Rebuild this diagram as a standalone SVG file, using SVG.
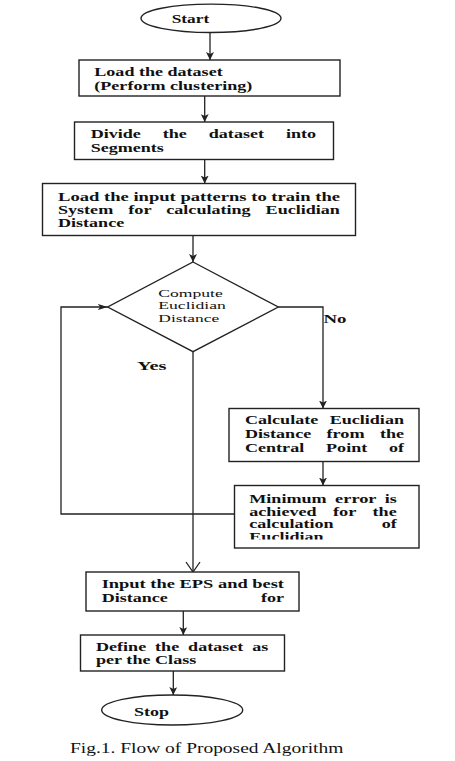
<svg xmlns="http://www.w3.org/2000/svg" width="455" height="761" viewBox="0 0 455 761">
<style>
.bg{fill:#ffffff}
.box{fill:#ffffff;stroke:#222;stroke-width:1.4}
.ln{fill:none;stroke:#222;stroke-width:1.3}
.t{font-family:"Liberation Serif","Times New Roman",serif;font-size:12.5px;font-weight:bold;fill:#111}
.r{font-weight:normal;font-size:11px}
.cap{font-family:"Liberation Serif","Times New Roman",serif;font-size:14px;font-weight:normal;fill:#111}
</style>
<defs>
<marker id="ah" markerUnits="userSpaceOnUse" markerWidth="8" markerHeight="8" viewBox="0 0 8 8" refX="8" refY="4" orient="auto">
<path d="M0,0 L8,4 L0,8 L2,4 z" fill="#222"/>
</marker>
<marker id="ahl" markerUnits="userSpaceOnUse" markerWidth="10" markerHeight="7" viewBox="0 0 10 7" refX="10" refY="3.5" orient="auto">
<path d="M0,0.5 L10,3.5 L0,6.5 L2.5,3.5 z" fill="#222"/>
</marker>
<marker id="aho" markerUnits="userSpaceOnUse" markerWidth="12" markerHeight="16" viewBox="0 0 12 16" refX="11" refY="8" orient="auto">
<path d="M1,1 L11,8 L1,15" fill="none" stroke="#222" stroke-width="1.3"/>
</marker>
<clipPath id="c5"><rect x="234" y="485" width="186" height="54.5"/></clipPath>
</defs>
<rect class="bg" x="0" y="0" width="455" height="761"/>

<g id="connectors">
<line class="ln" x1="210" y1="32.5" x2="210" y2="60" marker-end="url(#ah)"/>
<line class="ln" x1="204.7" y1="96" x2="204.7" y2="122" marker-end="url(#ah)"/>
<line class="ln" x1="204.7" y1="159.5" x2="204.7" y2="183.5" marker-end="url(#ah)"/>
<line class="ln" x1="193" y1="235.5" x2="193" y2="262" marker-end="url(#ah)"/>
<polyline class="ln" points="278.3,307 323,307 323,408.5" marker-end="url(#ah)"/>
<line class="ln" x1="323" y1="461.5" x2="323" y2="485.5" marker-end="url(#ah)"/>
<polyline class="ln" points="234.5,514 61,514 61,307 107.7,307" marker-end="url(#ahl)"/>
<line class="ln" x1="193" y1="351.7" x2="193" y2="572" marker-end="url(#aho)"/>
<line class="ln" x1="183.3" y1="611" x2="183.3" y2="635" marker-end="url(#ah)"/>
<line class="ln" x1="173.3" y1="671" x2="173.3" y2="695" marker-end="url(#ah)"/>
<text class="t" x="323.5" y="322.7" textLength="23" lengthAdjust="spacingAndGlyphs">No</text>
<text class="t" x="137" y="370" textLength="29.5" lengthAdjust="spacingAndGlyphs">Yes</text>
</g>

<g id="start">
<ellipse class="box" cx="211" cy="18.3" rx="70" ry="14.2"/>
<text class="t" x="171.7" y="22.7" textLength="37.5" lengthAdjust="spacingAndGlyphs">Start</text>
</g>

<g id="load-dataset">
<rect class="box" x="79" y="60" width="261" height="36"/>
<text class="t" x="94.3" y="76" textLength="128.4" lengthAdjust="spacingAndGlyphs">Load the dataset</text>
<text class="t" x="94.3" y="89.5" textLength="158" lengthAdjust="spacingAndGlyphs">(Perform clustering)</text>
</g>

<g id="divide">
<rect class="box" x="74.5" y="122" width="259" height="37.5"/>
<text class="t" y="137.7"><tspan x="90.7" textLength="50.2" lengthAdjust="spacingAndGlyphs">Divide</tspan> <tspan x="162.8" textLength="24.1" lengthAdjust="spacingAndGlyphs">the</tspan> <tspan x="208.8" textLength="55.2" lengthAdjust="spacingAndGlyphs">dataset</tspan> <tspan x="285.9" textLength="30.1" lengthAdjust="spacingAndGlyphs">into</tspan></text>
<text class="t" x="90.7" y="151.5" textLength="73.2" lengthAdjust="spacingAndGlyphs">Segments</text>
</g>

<g id="load-patterns">
<rect class="box" x="42.5" y="183.5" width="313" height="52"/>
<text class="t" x="58" y="200.5" textLength="282" lengthAdjust="spacingAndGlyphs">Load the input patterns to train the</text>
<text class="t" y="213.8"><tspan x="58" textLength="55.2" lengthAdjust="spacingAndGlyphs">System</tspan> <tspan x="128.2" textLength="23.1" lengthAdjust="spacingAndGlyphs">for</tspan> <tspan x="166.3" textLength="84.3" lengthAdjust="spacingAndGlyphs">calculating</tspan> <tspan x="265.6" textLength="74.3" lengthAdjust="spacingAndGlyphs">Euclidian</tspan></text>
<text class="t" x="58" y="227" textLength="66.2" lengthAdjust="spacingAndGlyphs">Distance</text>
</g>

<g id="decision">
<polygon class="box" points="193,262 278.3,307 193,351.7 107.7,307"/>
<text class="t r" x="158.3" y="296.5" textLength="64.4" lengthAdjust="spacingAndGlyphs">Compute</text>
<text class="t r" x="158.3" y="309" textLength="67.5" lengthAdjust="spacingAndGlyphs">Euclidian</text>
<text class="t r" x="158.3" y="321.5" textLength="61" lengthAdjust="spacingAndGlyphs">Distance</text>
</g>

<g id="calculate">
<rect class="box" x="229" y="408.5" width="190" height="53"/>
<text class="t" y="424.3"><tspan x="245" textLength="73.2" lengthAdjust="spacingAndGlyphs">Calculate</tspan> <tspan x="329.7" textLength="74.3" lengthAdjust="spacingAndGlyphs">Euclidian</tspan></text>
<text class="t" y="438"><tspan x="245" textLength="66.2" lengthAdjust="spacingAndGlyphs">Distance</tspan> <tspan x="326.5" textLength="38.1" lengthAdjust="spacingAndGlyphs">from</tspan> <tspan x="379.9" textLength="24.1" lengthAdjust="spacingAndGlyphs">the</tspan></text>
<text class="t" y="451.7"><tspan x="245" textLength="59.2" lengthAdjust="spacingAndGlyphs">Central</tspan> <tspan x="326.1" textLength="41.1" lengthAdjust="spacingAndGlyphs">Point</tspan> <tspan x="389" textLength="15" lengthAdjust="spacingAndGlyphs">of</tspan></text>
</g>

<g id="minimum-error">
<rect class="box" x="234.5" y="485.5" width="184.5" height="62.5"/>
<text class="t" y="503"><tspan x="249.3" textLength="77.3" lengthAdjust="spacingAndGlyphs">Minimum</tspan> <tspan x="335.1" textLength="41.1" lengthAdjust="spacingAndGlyphs">error</tspan> <tspan x="384.7" textLength="12" lengthAdjust="spacingAndGlyphs">is</tspan></text>
<text class="t" y="515.7"><tspan x="249.3" textLength="67.2" lengthAdjust="spacingAndGlyphs">achieved</tspan> <tspan x="333" textLength="23.1" lengthAdjust="spacingAndGlyphs">for</tspan> <tspan x="372.6" textLength="24.1" lengthAdjust="spacingAndGlyphs">the</tspan></text>
<text class="t" y="528.3"><tspan x="249.3" textLength="84.3" lengthAdjust="spacingAndGlyphs">calculation</tspan> <tspan x="381.7" textLength="15" lengthAdjust="spacingAndGlyphs">of</tspan></text>
<text class="t" x="249.3" y="541" textLength="74.3" lengthAdjust="spacingAndGlyphs" clip-path="url(#c5)">Euclidian</text>
</g>

<g id="input-eps">
<rect class="box" x="86" y="572" width="213" height="39"/>
<text class="t" x="101.7" y="587.5" textLength="182.3" lengthAdjust="spacingAndGlyphs">Input the EPS and best</text>
<text class="t" y="601.5"><tspan x="101.7" textLength="66.2" lengthAdjust="spacingAndGlyphs">Distance</tspan> <tspan x="260.9" textLength="23.1" lengthAdjust="spacingAndGlyphs">for</tspan></text>
</g>

<g id="define-class">
<rect class="box" x="80.5" y="635" width="204" height="36"/>
<text class="t" y="651"><tspan x="96" textLength="50.2" lengthAdjust="spacingAndGlyphs">Define</tspan> <tspan x="155.1" textLength="24.1" lengthAdjust="spacingAndGlyphs">the</tspan> <tspan x="188.1" textLength="55.2" lengthAdjust="spacingAndGlyphs">dataset</tspan> <tspan x="252.2" textLength="16.1" lengthAdjust="spacingAndGlyphs">as</tspan></text>
<text class="t" x="96" y="664" textLength="100.3" lengthAdjust="spacingAndGlyphs">per the Class</text>
</g>

<g id="stop">
<ellipse class="box" cx="172.2" cy="710" rx="70.5" ry="15"/>
<text class="t" x="134" y="716" textLength="35" lengthAdjust="spacingAndGlyphs">Stop</text>
</g>

<text class="cap" x="70" y="752.7" textLength="273.3" lengthAdjust="spacingAndGlyphs">Fig.1. Flow of Proposed Algorithm</text>
</svg>
